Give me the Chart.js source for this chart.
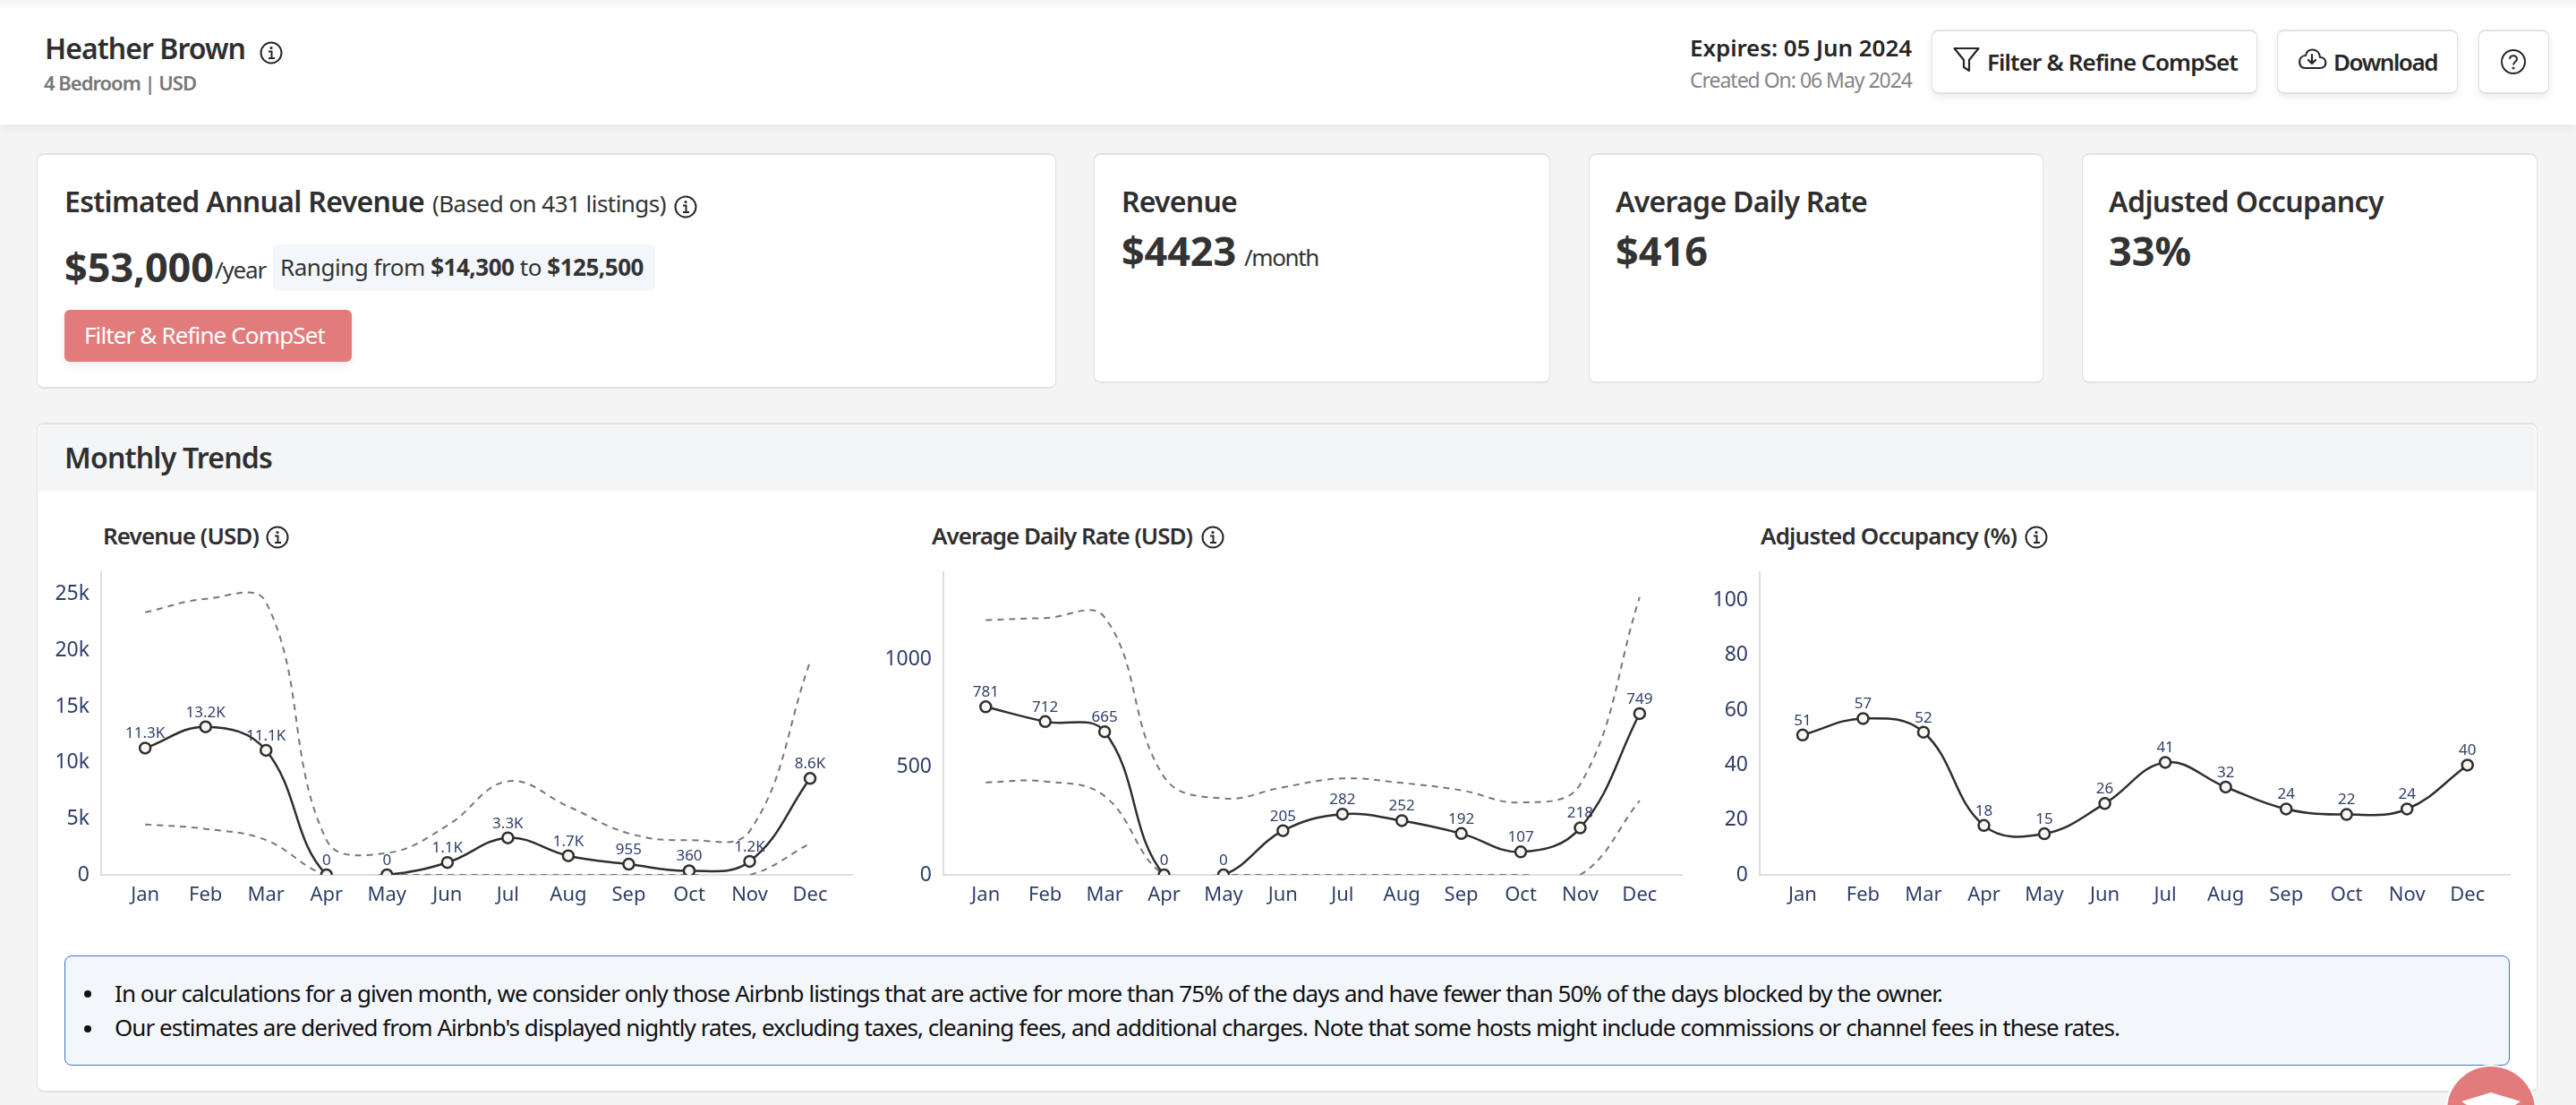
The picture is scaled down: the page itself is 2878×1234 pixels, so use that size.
<!DOCTYPE html>
<html>
<head>
<meta charset="utf-8">
<title>Monthly Trends</title>
<script src="https://cdn.jsdelivr.net/npm/chart.js@4"></script>
<style>
    html, body { margin: 0; padding: 0; }
    body { width: 2878px; height: 1234px; overflow: hidden; background: #f4f4f4; position: relative; font-family: "Noto Sans", sans-serif; color: #333; }
    .box { position: absolute; box-sizing: border-box; background: #fff; border: 1px solid #e2e2e2; border-width: 2px 1px; border-radius: 8px; }
    .t { position: absolute; white-space: nowrap; line-height: 1; transform: translateY(-50%); }
    .title { font-size: 32px; font-weight: 600; color: #2f2f2f; }
    .big { font-size: 45px; font-weight: 700; color: #333; }
    .small { font-size: 26px; font-weight: 400; color: #333; }
    .chartTitle { font-size: 26px; font-weight: 600; color: #2f2f2f; }
    .btnText { font-size: 26px; font-weight: 600; color: #262626; }
    .btn { box-shadow: 0 4px 8px rgba(0, 0, 0, 0.08); }
    canvas { position: absolute; }
    svg { position: absolute; overflow: visible; }
    #header { position: absolute; left: 0; top: 0; width: 2878px; height: 139px; background: linear-gradient(#f4f4f4 0, #fff 11px); box-shadow: 0 4px 10px rgba(0, 0, 0, 0.05); }
    #trendsHead { position: absolute; left: 43px; top: 474px; width: 2790px; height: 75px; background: #f4f5f6; border-radius: 8px 8px 0 0; }
    #note { position: absolute; box-sizing: border-box; left: 72px; top: 1067px; width: 2732px; height: 123px; background: #f3f6fb; border: 1px solid #3f72d8; border-width: 1.5px 1px; border-radius: 8px; }
    .dot { position: absolute; left: 94px; width: 8px; height: 8px; margin-top: -4px; border-radius: 50%; background: #111; }
</style>
</head>
<body>

<div id="header"></div>
<div class="t" data-w="224" style="left:50px;top:54px;font-size:32px;font-weight:600;color:#2f2f2f">Heather Brown</div>
<div class="t" data-w="170" style="left:49px;top:92px;font-size:22px;font-weight:600;color:#777">4 Bedroom | USD</div>
<svg class="info" data-x="303" data-y="59"></svg>

<div class="t" data-w="248" style="left:1888px;top:53px;font-size:26px;font-weight:600;color:#262626">Expires: 05 Jun 2024</div>
<div class="t" data-w="248" style="left:1888px;top:89px;font-size:23px;color:#858585">Created On: 06 May 2024</div>

<div class="box btn" style="left:2158px;top:33px;width:364px;height:72px"></div>
<svg style="left:2182px;top:52px" width="30" height="30" viewBox="0 0 30 30" fill="none" stroke="#262626" stroke-width="2.2" stroke-linejoin="round"><path d="M1.5 2 H28.5 L18 15 V27 L12 23 V15 Z"/></svg>
<div class="t btnText" data-w="280" style="left:2220px;top:69px">Filter &amp; Refine CompSet</div>

<div class="box btn" style="left:2544px;top:33px;width:202px;height:72px"></div>
<svg style="left:2567px;top:52px" width="32" height="28" viewBox="0 0 32 28" fill="none" stroke="#262626" stroke-width="2.2" stroke-linejoin="round" stroke-linecap="round"><path d="M8 24 H25 C34 24 33 12 25 12 C24 1 10 1 9 10 C0 10 0 24 8 24 Z"/><path d="M16 9 V19 M12 15 L16 19 L20 15"/></svg>
<div class="t btnText" data-w="116" style="left:2607px;top:69px">Download</div>

<div class="box btn" style="left:2769px;top:33px;width:79px;height:72px"></div>
<svg style="left:2794px;top:55px" width="28" height="28" viewBox="0 0 28 28" fill="none" stroke="#262626" stroke-width="2"><circle cx="14" cy="14" r="13"/><path d="M10 11 C10 6 18 6 18 11 C18 14 14 14 14 17.5"/><circle cx="14" cy="21" r="0.6"/></svg>

<!-- summary cards -->
<div class="box" style="left:41px;top:171px;width:1139px;height:263px"></div>
<div class="t title" data-w="402" style="left:72px;top:225px">Estimated Annual Revenue</div>
<div class="t small" data-w="261" style="left:483px;top:227px">(Based on 431 listings)</div>
<svg class="info" data-x="766" data-y="231"></svg>
<div class="t big" data-w="167" style="left:72px;top:297px">$53,000</div>
<div class="t small" data-w="57" style="left:240px;top:301px">/year</div>
<div style="position:absolute;left:305px;top:273px;width:427px;height:52px;background:#f3f6fb;border-radius:6px"></div>
<div class="t small" data-w="406" style="left:313px;top:298px">Ranging from <b>$14,300</b> to <b>$125,500</b></div>
<div class="btn" style="position:absolute;left:72px;top:346px;width:321px;height:58px;background:#e27c7c;border-radius:6px"></div>
<div class="t small" data-w="269" style="left:94px;top:374px;color:#fff">Filter &amp; Refine CompSet</div>

<div class="box" style="left:1222px;top:171px;width:510px;height:257px"></div>
<div class="t title" data-w="129" style="left:1253px;top:225px">Revenue</div>
<div class="t big" data-w="128" style="left:1253px;top:279px">$4423</div>
<div class="t small" data-w="83" style="left:1390px;top:287px">/month</div>

<div class="box" style="left:1775px;top:171px;width:508px;height:257px"></div>
<div class="t title" data-w="281" style="left:1805px;top:225px">Average Daily Rate</div>
<div class="t big" data-w="103" style="left:1805px;top:279px">$416</div>

<div class="box" style="left:2326px;top:171px;width:509px;height:257px"></div>
<div class="t title" data-w="307" style="left:2356px;top:225px">Adjusted Occupancy</div>
<div class="t big" data-w="92" style="left:2356px;top:279px">33%</div>

<!-- trends panel -->
<div class="box" style="left:41px;top:472px;width:2794px;height:748px"></div>
<div id="trendsHead"></div>
<div class="t title" data-w="232" style="left:72px;top:511px">Monthly Trends</div>

<div class="t chartTitle" data-w="174" style="left:115px;top:598px">Revenue (USD)</div>
<svg class="info" data-x="310" data-y="600"></svg>
<div class="t chartTitle" data-w="291" style="left:1041px;top:598px">Average Daily Rate (USD)</div>
<svg class="info" data-x="1355" data-y="600"></svg>
<div class="t chartTitle" data-w="286" style="left:1967px;top:598px">Adjusted Occupancy (%)</div>
<svg class="info" data-x="2275" data-y="600"></svg>

<canvas id="revenueChart" style="left:20px;top:620px" width="950" height="410"></canvas>
<canvas id="adrChart" style="left:960px;top:620px" width="940" height="410"></canvas>
<canvas id="occupancyChart" style="left:1880px;top:620px" width="950" height="410"></canvas>

<div id="note"></div>
<div class="dot" style="top:1110px"></div>
<div class="t" data-w="2042" style="left:128px;top:1109px;font-size:26px;color:#111">In our calculations for a given month, we consider only those Airbnb listings that are active for more than 75% of the days and have fewer than 50% of the days blocked by the owner.</div>
<div class="dot" style="top:1149px"></div>
<div class="t" data-w="2240" style="left:128px;top:1147px;font-size:26px;color:#111">Our estimates are derived from Airbnb's displayed nightly rates, excluding taxes, cleaning fees, and additional charges. Note that some hosts might include commissions or channel fees in these rates.</div>

<!-- back to top button, cut off by the window -->
<svg style="left:2700px;top:1170px" width="178" height="64" viewBox="2700 1170 178 64">
    <circle cx="2783" cy="1240" r="50" fill="#e27c7c" stroke="#fff" stroke-width="2"/>
    <path d="M2783 1220 L2816 1230 L2810 1234 L2756 1234 L2750 1230 Z" fill="#fff"/>
</svg>

<script>
// Months shared by all three charts
var months = ['Jan', 'Feb', 'Mar', 'Apr', 'May', 'Jun', 'Jul', 'Aug', 'Sep', 'Oct', 'Nov', 'Dec'];

// Revenue (USD)
var revenueValues = [11300, 13200, 11100, 0, 0, 1100, 3300, 1700, 955, 360, 1200, 8600];
var revenueUpper = [23400, 24600, 24300, 3100, 1950, 4400, 8350, 6100, 3700, 3100, 3900, 19000];
var revenueLower = [4500, 4100, 3100, 0, 0, 0, 0, 0, 0, 0, 0, 2800];
var revenueTicks = [0, 5000, 10000, 15000, 20000, 25000];

// Average Daily Rate (USD)
var adrValues = [781, 712, 665, 0, 0, 205, 282, 252, 192, 107, 218, 749];
var adrUpper = [1184, 1193, 1197, 455, 355, 407, 448, 427, 393, 336, 420, 1290];
var adrLower = [430, 434, 366, 0, 0, 0, 0, 0, 0, 0, 0, 345];
var adrTicks = [0, 500, 1000];

// Adjusted Occupancy (%)
var occupancyValues = [51, 57, 52, 18, 15, 26, 41, 32, 24, 22, 24, 40];
var occupancyTicks = [0, 20, 40, 60, 80, 100];

var navy = '#2f3e66';
var axisGrey = '#dedede';
var fontName = 'Noto Sans';

// Squeeze or stretch a text element to the width it should take
document.querySelectorAll('.t[data-w]').forEach(function(el) {
    var extra = Number(el.dataset.w) - el.getBoundingClientRect().width;
    el.style.letterSpacing = (extra / el.textContent.length) + 'px';
});

// Small circled "i" icons
document.querySelectorAll('svg.info').forEach(function(svg) {
    svg.setAttribute('width', 26);
    svg.setAttribute('height', 26);
    svg.setAttribute('viewBox', '0 0 26 26');
    svg.style.left = (Number(svg.dataset.x) - 13) + 'px';
    svg.style.top = (Number(svg.dataset.y) - 13) + 'px';
    svg.innerHTML = '<circle cx="13" cy="13" r="11.5" fill="none" stroke="#262626" stroke-width="2"/>' +
        '<circle cx="13" cy="7.5" r="1.6" fill="#262626"/>' +
        '<path d="M10 11.5 H13.5 V18.5 M10 19 H17" fill="none" stroke="#262626" stroke-width="2"/>';
});

// Value text above the points, per chart
function shortK(v) {
    return v >= 1000 ? (v / 1000).toFixed(1) + 'K' : String(v);
}
var labelFormats = { revenueChart: shortK, adrChart: String, occupancyChart: String };

// Writes each value above its point on the solid line
var pointLabels = {
    id: 'pointLabels',
    afterDatasetsDraw: function(chart) {
        var ctx = chart.ctx;
        var format = labelFormats[chart.canvas.id];
        var meta = chart.getDatasetMeta(0);
        ctx.save();
        ctx.font = '17px "' + fontName + '"';
        ctx.fillStyle = navy;
        ctx.textAlign = 'center';
        ctx.textBaseline = 'middle';
        meta.data.forEach(function(point, i) {
            ctx.fillText(format(chart.data.datasets[0].data[i].y), point.x, point.y - 16);
        });
        ctx.restore();
    }
};

function toPoints(values) {
    return values.map(function(v, i) {
        return { x: i, y: v };
    });
}

function bandDataset(values) {
    return {
        data: toPoints(values),
        borderColor: '#777777',
        borderWidth: 2,
        borderDash: [7, 6],
        pointRadius: 0,
        clip: { left: 20, right: 20, top: 20, bottom: 0 }
    };
}

function makeChart(id, opts) {
    var datasets = [{
        data: toPoints(opts.values),
        borderColor: '#2e2e2e',
        borderWidth: 2.5,
        pointRadius: 6,
        pointBorderWidth: 2.5,
        pointBackgroundColor: '#f7f7f2',
        pointBorderColor: '#2e2e2e',
        clip: { left: 20, right: 20, top: 20, bottom: 0 }
    }];
    if (opts.upper) {
        datasets.push(bandDataset(opts.upper));
        datasets.push(bandDataset(opts.lower));
    }

    return new Chart(document.getElementById(id).getContext('2d'), {
        type: 'line',
        data: { datasets: datasets },
        plugins: [pointLabels],
        options: {
            responsive: false,
            animation: false,
            elements: { line: { tension: 0.4, capBezierPoints: false } },
            layout: { padding: { top: 15, right: opts.padRight, left: 0, bottom: 0 } },
            plugins: {
                legend: { display: false },
                tooltip: { enabled: false }
            },
            scales: {
                x: {
                    type: 'linear',
                    min: opts.xMin,
                    max: opts.xMax,
                    afterBuildTicks: function(scale) {
                        scale.ticks = months.map(function(m, i) { return { value: i }; });
                    },
                    afterFit: function(scale) { scale.height = 53; },
                    grid: { display: false },
                    border: { color: axisGrey, width: 2 },
                    ticks: {
                        autoSkip: false,
                        maxRotation: 0,
                        padding: 2,
                        color: navy,
                        font: { family: fontName, size: 22 },
                        callback: function(v) { return months[v]; }
                    }
                },
                y: {
                    min: 0,
                    max: opts.yMax,
                    afterBuildTicks: function(scale) {
                        scale.ticks = opts.ticks.map(function(v) { return { value: v }; });
                    },
                    afterFit: function(scale) { scale.width = opts.axisLeft; },
                    grid: { display: false },
                    border: { color: axisGrey, width: 2 },
                    ticks: {
                        padding: 5,
                        color: navy,
                        font: { family: fontName, size: 23 },
                        callback: opts.tickLabel
                    }
                }
            }
        }
    });
}

// Initialize revenue chart
var revenueChart = makeChart('revenueChart', {
    values: revenueValues,
    upper: revenueUpper,
    lower: revenueLower,
    ticks: revenueTicks,
    yMax: 27000,
    xMin: -0.728,
    xMax: 11.695,
    axisLeft: 93,
    padRight: 18,
    tickLabel: function(v) { return v === 0 ? '0' : (v / 1000) + 'k'; }
});

// Initialize average daily rate chart
var adrChart = makeChart('adrChart', {
    values: adrValues,
    upper: adrUpper,
    lower: adrLower,
    ticks: adrTicks,
    yMax: 1407,
    xMin: -0.712,
    xMax: 11.71,
    axisLeft: 94,
    padRight: 21,
    tickLabel: function(v) { return String(v); }
});

// Initialize occupancy chart
var occupancyChart = makeChart('occupancyChart', {
    values: occupancyValues,
    ticks: occupancyTicks,
    yMax: 110.4,
    xMin: -0.71,
    xMax: 11.7,
    axisLeft: 86,
    padRight: 26,
    tickLabel: function(v) { return String(v); }
});
</script>
</body>
</html>
